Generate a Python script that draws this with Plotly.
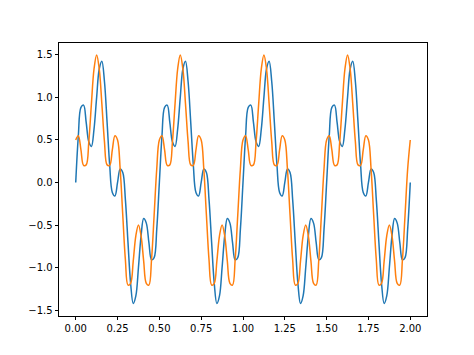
import numpy as np
import plotly.graph_objects as go

# sampling grid (t from 0 to 2, 129 samples)
t = np.linspace(0, 2, 129)

blue_values = [
    0.000, 0.549, 0.883, 0.909, 0.707, 0.478, 0.424, 0.627,
    1.000, 1.334, 1.424, 1.185, 0.707, 0.202, -0.117, -0.159,
    0.000, 0.159, 0.117, -0.202, -0.707, -1.185, -1.424, -1.334,
    -1.000, -0.627, -0.424, -0.478, -0.707, -0.909, -0.883, -0.549,
    0.000, 0.549, 0.883, 0.909, 0.707, 0.478, 0.424, 0.627,
    1.000, 1.334, 1.424, 1.185, 0.707, 0.202, -0.117, -0.159,
    0.000, 0.159, 0.117, -0.202, -0.707, -1.185, -1.424, -1.334,
    -1.000, -0.627, -0.424, -0.478, -0.707, -0.909, -0.883, -0.549,
    0.000, 0.549, 0.883, 0.909, 0.707, 0.478, 0.424, 0.627,
    1.000, 1.334, 1.424, 1.185, 0.707, 0.202, -0.117, -0.159,
    0.000, 0.159, 0.117, -0.202, -0.707, -1.185, -1.424, -1.334,
    -1.000, -0.627, -0.424, -0.478, -0.707, -0.909, -0.883, -0.549,
    0.000, 0.549, 0.883, 0.909, 0.707, 0.478, 0.424, 0.627,
    1.000, 1.334, 1.424, 1.185, 0.707, 0.202, -0.117, -0.159,
    0.000, 0.159, 0.117, -0.202, -0.707, -1.185, -1.424, -1.334,
    -1.000, -0.627, -0.424, -0.478, -0.707, -0.909, -0.883, -0.549,
    0.000,
]

orange_values = [
    0.500, 0.549, 0.383, 0.202, 0.207, 0.478, 0.924, 1.334,
    1.500, 1.334, 0.924, 0.478, 0.207, 0.202, 0.383, 0.549,
    0.500, 0.159, -0.383, -0.909, -1.207, -1.185, -0.924, -0.627,
    -0.500, -0.627, -0.924, -1.185, -1.207, -0.909, -0.383, 0.159,
    0.500, 0.549, 0.383, 0.202, 0.207, 0.478, 0.924, 1.334,
    1.500, 1.334, 0.924, 0.478, 0.207, 0.202, 0.383, 0.549,
    0.500, 0.159, -0.383, -0.909, -1.207, -1.185, -0.924, -0.627,
    -0.500, -0.627, -0.924, -1.185, -1.207, -0.909, -0.383, 0.159,
    0.500, 0.549, 0.383, 0.202, 0.207, 0.478, 0.924, 1.334,
    1.500, 1.334, 0.924, 0.478, 0.207, 0.202, 0.383, 0.549,
    0.500, 0.159, -0.383, -0.909, -1.207, -1.185, -0.924, -0.627,
    -0.500, -0.627, -0.924, -1.185, -1.207, -0.909, -0.383, 0.159,
    0.500, 0.549, 0.383, 0.202, 0.207, 0.478, 0.924, 1.334,
    1.500, 1.334, 0.924, 0.478, 0.207, 0.202, 0.383, 0.549,
    0.500, 0.159, -0.383, -0.909, -1.207, -1.185, -0.924, -0.627,
    -0.500, -0.627, -0.924, -1.185, -1.207, -0.909, -0.383, 0.159,
    0.500,
]

x_ticks = [0.0, 0.25, 0.5, 0.75, 1.0, 1.25, 1.5, 1.75, 2.0]
x_tick_labels = ["0.00", "0.25", "0.50", "0.75", "1.00", "1.25", "1.50", "1.75", "2.00"]
y_ticks = [-1.5, -1.0, -0.5, 0.0, 0.5, 1.0, 1.5]
y_tick_labels = ["\u22121.5", "\u22121.0", "\u22120.5", "0.0", "0.5", "1.0", "1.5"]

fig = go.Figure()
fig.add_trace(go.Scatter(x=t, y=blue_values, mode="lines",
                         line=dict(color="#1f77b4", width=1.5, shape="spline", smoothing=1.0),
                         showlegend=False, hoverinfo="skip"))
fig.add_trace(go.Scatter(x=t, y=orange_values, mode="lines",
                         line=dict(color="#ff7f0e", width=1.5, shape="spline", smoothing=1.0),
                         showlegend=False, hoverinfo="skip"))

axis_common = dict(
    showgrid=False, zeroline=False, showline=True, linecolor="black", linewidth=0.8,
    mirror=True, ticks="outside", ticklen=3.5, tickwidth=0.8, tickcolor="black",
    tickfont=dict(family="DejaVu Sans", size=10, color="black"),
)

fig.update_layout(
    width=474, height=355,
    margin=dict(l=59, r=47, t=43, b=39),
    paper_bgcolor="white", plot_bgcolor="white",
    xaxis=dict(range=[-0.1, 2.1], tickvals=x_ticks, ticktext=x_tick_labels, **axis_common),
    yaxis=dict(range=[-1.57, 1.64], tickvals=y_ticks, ticktext=y_tick_labels, **axis_common),
)

fig.write_html("out.html")
